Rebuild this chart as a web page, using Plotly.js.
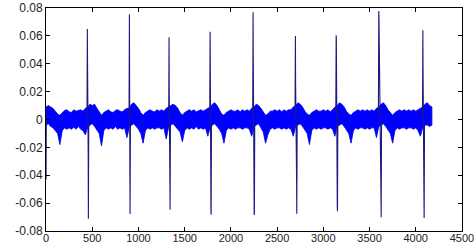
<!DOCTYPE html>
<html>
<head>
<meta charset="utf-8">
<script src="https://cdn.plot.ly/plotly-3.0.1.min.js"></script>
<style>html,body{margin:0;padding:0;background:#fff;}#chart{width:474px;height:246px;}</style>
</head>
<body>
<div id="chart"></div>
<script>
// ---- data ----
// noise band: upper / lower edge of the dense signal, one reading every 25 samples from sample 0
const sampleStep = 25;
const bandUpper = [
  0.009, 0.010, 0.009, 0.008, 0.006, 0.004, 0.003, 0.005, 0.0065, 0.007, 0.0055, 0.005, 0.007, 0.006, 0.0065, 0.007, 0.006, 0.008,
  0.009, 0.011, 0.010, 0.011, 0.008, 0.005, 0.003, 0.005, 0.006, 0.007, 0.0055, 0.005, 0.0065, 0.007, 0.006, 0.0055, 0.007, 0.008,
  0.008, 0.011, 0.012, 0.010, 0.008, 0.005, 0.003, 0.005, 0.006, 0.007, 0.006, 0.0055, 0.007, 0.006, 0.007, 0.006, 0.008, 0.009,
  0.010, 0.011, 0.010, 0.008, 0.005, 0.003, 0.005, 0.006, 0.007, 0.006, 0.007, 0.0055, 0.006, 0.007, 0.006, 0.007, 0.008,
  0.009, 0.011, 0.012, 0.010, 0.007, 0.004, 0.003, 0.005, 0.006, 0.007, 0.006, 0.006, 0.007, 0.0055, 0.007, 0.006, 0.007, 0.006, 0.008,
  0.009, 0.011, 0.010, 0.008, 0.005, 0.003, 0.004, 0.006, 0.006, 0.007, 0.006, 0.007, 0.0055, 0.007, 0.006, 0.007, 0.007, 0.009,
  0.010, 0.012, 0.011, 0.009, 0.006, 0.004, 0.003, 0.005, 0.006, 0.007, 0.006, 0.006, 0.007, 0.006, 0.007, 0.0055, 0.007, 0.009,
  0.010, 0.012, 0.011, 0.009, 0.006, 0.004, 0.003, 0.005, 0.006, 0.007, 0.006, 0.007, 0.006, 0.007, 0.006, 0.007, 0.006, 0.008,
  0.009, 0.011, 0.012, 0.010, 0.007, 0.005, 0.003, 0.005, 0.006, 0.007, 0.006, 0.007, 0.006, 0.007, 0.006, 0.007, 0.006, 0.007, 0.008,
  0.009, 0.011, 0.012, 0.010, 0.009
];
const bandLower = [
  -0.004, -0.003, -0.005, -0.006, -0.008, -0.010, -0.018, -0.008, -0.006, -0.007, -0.006, -0.007, -0.0055, -0.007, -0.005, -0.007, -0.008, -0.011,
  -0.006, -0.004, -0.003, -0.005, -0.007, -0.010, -0.019, -0.008, -0.006, -0.007, -0.006, -0.007, -0.005, -0.007, -0.006, -0.007, -0.006, -0.013,
  -0.006, -0.004, -0.003, -0.005, -0.007, -0.010, -0.017, -0.008, -0.006, -0.007, -0.006, -0.007, -0.006, -0.006, -0.007, -0.006, -0.014, -0.006,
  -0.004, -0.003, -0.005, -0.007, -0.009, -0.016, -0.008, -0.006, -0.007, -0.006, -0.007, -0.005, -0.007, -0.006, -0.007, -0.006, -0.012,
  -0.006, -0.004, -0.003, -0.005, -0.007, -0.010, -0.017, -0.008, -0.006, -0.007, -0.006, -0.007, -0.006, -0.006, -0.007, -0.006, -0.006, -0.007, -0.012,
  -0.005, -0.004, -0.003, -0.006, -0.009, -0.017, -0.011, -0.007, -0.006, -0.007, -0.006, -0.006, -0.007, -0.006, -0.007, -0.006, -0.007, -0.012,
  -0.005, -0.004, -0.003, -0.005, -0.007, -0.010, -0.018, -0.008, -0.006, -0.007, -0.006, -0.007, -0.006, -0.006, -0.007, -0.006, -0.007, -0.012,
  -0.005, -0.004, -0.003, -0.005, -0.007, -0.010, -0.017, -0.008, -0.006, -0.007, -0.006, -0.006, -0.007, -0.006, -0.007, -0.006, -0.006, -0.013,
  -0.005, -0.004, -0.003, -0.005, -0.007, -0.010, -0.017, -0.008, -0.006, -0.007, -0.006, -0.006, -0.007, -0.006, -0.006, -0.007, -0.006, -0.008, -0.012,
  -0.006, -0.004, -0.004, -0.005, -0.004
];

// spikes: sample position and value of each peak / trough
const spikePeakX   = [447, 902, 1331, 1775, 2240, 2698, 3139, 3600, 4077];
const spikePeak    = [0.065, 0.0755, 0.059, 0.063, 0.077, 0.060, 0.0605, 0.0778, 0.064];
const spikeMid     = [0.040, 0.027, 0.018, 0.042, 0.046, 0.028, 0.058, 0.074, 0.037];
const spikeTroughX = [458, 909, 1342, 1786, 2254, 2713, 3153, 3626, 4091];
const spikeTroughMid = [-0.024, -0.038, -0.045, -0.065, -0.068, -0.045, -0.062, -0.057, -0.057];
const spikeTrough  = [-0.0712, -0.0678, -0.0647, -0.0683, -0.0683, -0.0676, -0.0659, -0.0702, -0.0707];

// dip at the very start of the record
const startDipX = [0, 3];
const startDipY = [-0.043, 0.004];

// axis ticks
const xTickVals = [0, 500, 1000, 1500, 2000, 2500, 3000, 3500, 4000, 4500];
const xTickText = ['0', '500', '1000', '1500', '2000', '2500', '3000', '3500', '4000', '4500'];
const yTickVals = [-0.08, -0.06, -0.04, -0.02, 0, 0.02, 0.04, 0.06, 0.08];
const yTickText = ['-0.08', '-0.06', '-0.04', '-0.02', '0', '0.02', '0.04', '0.06', '0.08'];

// ---- build traces ----
const bandX = bandUpper.map((_, i) => i * sampleStep);
const polyX = bandX.concat(bandX.slice().reverse());
const polyY = bandUpper.concat(bandLower.slice().reverse());

const spX = [], spY = [];
spikePeakX.forEach((px, k) => {
  const tx = spikeTroughX[k];
  spX.push(px - 4, px, px + 2, tx - 2, tx, tx + 4, null);
  spY.push(0.004, spikePeak[k], spikeMid[k], spikeTroughMid[k], spikeTrough[k], -0.004, null);
});

const traces = [
  {
    x: polyX, y: polyY, type: 'scatter', mode: 'lines',
    fill: 'toself', fillcolor: '#0000ff',
    line: {color: '#0000dd', width: 0.8}, hoverinfo: 'skip'
  },
  {
    x: spX, y: spY, type: 'scatter', mode: 'lines',
    line: {color: '#1a1a80', width: 1.1}, connectgaps: false, hoverinfo: 'skip'
  },
  {
    x: startDipX, y: startDipY, type: 'scatter', mode: 'lines',
    line: {color: '#1a1a80', width: 1.1}, hoverinfo: 'skip'
  }
];

const axisFont = {family: 'Liberation Sans, Arial, sans-serif', size: 11, color: '#222'};
const layout = {
  width: 474, height: 246,
  margin: {l: 46, r: 12, t: 8, b: 15, pad: 0},
  paper_bgcolor: '#fff', plot_bgcolor: '#fff',
  showlegend: false,
  xaxis: {
    range: [-0.5, 4500.5], tickmode: 'array', tickvals: xTickVals, ticktext: xTickText,
    ticks: 'inside', ticklen: 4, tickcolor: '#000', showline: true, linecolor: '#000', linewidth: 1,
    mirror: 'ticks', showgrid: false, zeroline: false, tickfont: axisFont,
    ticklabelstandoff: -3, ticklabeloverflow: 'allow'
  },
  yaxis: {
    range: [-0.08, 0.08], tickmode: 'array', tickvals: yTickVals, ticktext: yTickText,
    ticks: 'inside', ticklen: 4, tickcolor: '#000', showline: true, linecolor: '#000', linewidth: 1,
    mirror: 'ticks', showgrid: false, zeroline: false, tickfont: {family: axisFont.family, size: 12, color: '#222'}
  }
};

Plotly.newPlot('chart', traces, layout, {staticPlot: true, displayModeBar: false});
</script>
</body>
</html>
